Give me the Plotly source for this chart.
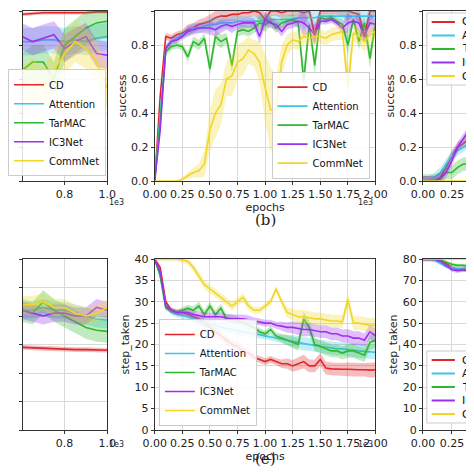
import plotly.graph_objects as go
import numpy as np

names = ["CD", "Attention", "TarMAC", "IC3Net", "CommNet"]
colors = ["#e0262a", "#3cc6e6", "#2eb82e", "#9b30f0", "#f2d624"]
fills = ["rgba(224,38,42,0.3)", "rgba(60,198,230,0.3)", "rgba(46,184,46,0.3)", "rgba(155,48,240,0.3)", "rgba(242,214,36,0.3)"]

# --- middle top: success vs epochs (1e3) ---
x_mid = [round(i * 0.05, 2) for i in range(41)]
top_cd = [0,0.5,0.85,0.84,0.86,0.87,0.89,0.9,0.92,0.93,0.94,0.96,0.97,0.97,0.98,0.98,0.99,0.99,1.0,0.99,0.95,1.0,1.0,0.99,1.0,1.0,1.0,0.99,1.0,0.86,1.0,1.0,1.0,1.0,1.0,1.0,0.99,0.98,0.85,1.0,1.0]
top_att = [0,0.4,0.78,0.82,0.84,0.86,0.88,0.9,0.9,0.91,0.92,0.92,0.93,0.93,0.93,0.94,0.94,0.94,0.94,0.94,0.95,0.95,0.95,0.95,0.95,0.95,0.96,0.96,0.96,0.96,0.97,0.97,0.97,0.97,0.97,0.97,0.97,0.97,0.97,0.97,0.97]
top_tar = [0,0.35,0.76,0.79,0.8,0.79,0.73,0.82,0.8,0.84,0.66,0.85,0.82,0.84,0.68,0.88,0.89,0.88,0.9,0.93,0.92,0.94,0.9,0.93,0.94,0.95,0.93,0.59,0.92,0.68,0.96,0.95,0.96,0.94,0.92,0.8,0.95,0.82,0.93,0.72,0.93]
top_ic3 = [0,0.3,0.78,0.82,0.83,0.85,0.88,0.89,0.9,0.9,0.9,0.89,0.91,0.92,0.91,0.92,0.93,0.93,0.93,0.85,0.95,0.93,0.92,0.88,0.92,0.93,0.94,0.93,0.9,0.86,0.94,0.94,0.95,0.93,0.9,0.93,0.94,0.93,0.85,0.93,0.92]
top_com = [0,0,0,0,0,0.01,0.03,0.05,0.06,0.1,0.3,0.4,0.45,0.6,0.62,0.7,0.72,0.77,0.75,0.7,0.55,0.42,0.42,0.7,0.8,0.83,0.82,0.85,0.84,0.85,0.85,0.84,0.86,0.87,0.88,0.55,0.87,0.85,0.82,0.86,0.88]
top_spread = [0.01,0.02,0.02,0.02,0.02,0.02,0.03,0.03,0.03,0.03,0.04,0.04,0.04,0.03,0.04,0.03,0.03,0.03,0.03,0.04,0.04,0.03,0.03,0.03,0.03,0.03,0.03,0.08,0.03,0.06,0.02,0.02,0.02,0.02,0.03,0.06,0.02,0.05,0.04,0.06,0.03]
com_spread = [0,0,0,0,0,0.01,0.02,0.03,0.04,0.08,0.12,0.14,0.12,0.1,0.12,0.1,0.1,0.08,0.08,0.12,0.2,0.25,0.2,0.1,0.06,0.05,0.05,0.04,0.04,0.04,0.04,0.04,0.04,0.04,0.05,0.1,0.05,0.05,0.06,0.05,0.05]

# --- middle bottom: step_taken ---
bot_cd = [40,38,30,28,27.5,27.5,27,26.5,26,25,24,23,22,21,20,19.5,18.5,18,17,16.5,16,16.5,16,15.5,15.5,15,15.5,16,15,15,16.5,14.5,14.3,14.2,14.2,14.2,14.1,14.1,14.1,14,14.1]
bot_att = [40,36,29,27.5,27,26.8,26.5,26,25.5,25,24.8,24.5,24,23.8,23.5,23.2,23,22.8,22.5,22.3,22,21.8,21.5,21.3,21,20.8,20.5,20.2,20,19.8,19.6,19.4,19.2,19,19,18.8,18.6,18.5,18.4,18.3,18.2]
bot_tar = [40,36,28.5,28,27.5,28,28.5,28,29,27,29,27,28.5,26,26,25.5,25,24.5,24,23,22.5,23.5,22,21.5,21,20.5,20,26,24,20,19.5,19,18.5,18.5,18,18.5,18.5,18,17.5,20.5,21]
bot_ic3 = [40,37,29,28,27.5,27.5,27.5,27,26.8,26.5,26.5,26.5,26.5,26.2,26,26,26,25.8,25.5,25.3,25,25,24.5,24.3,24,24,23.8,23.5,23.5,23.3,23,23,22.5,22.5,22,22,21.5,21.5,21,23,22]
bot_com = [40,40,40,40,40,39.8,39.5,38,36,34,33,32,31,30,29,30,31,29,28,28,29,30,33,30,27.5,27,26.5,26.5,26.3,26,26,25.8,25.5,25.5,25.3,30.5,25,25,24.8,24.5,24.5]
bot_spread = [0.2,0.5,0.6,0.6,0.6,0.7,0.8,0.9,1.0,1.0,1.0,1.0,1.0,1.0,1.0,1.0,1.0,1.0,0.8,0.8,0.8,0.8,0.8,1.0,1.2,1.4,1.5,1.6,1.5,1.5,1.5,1.5,1.5,1.5,1.5,1.6,1.6,1.6,1.6,1.7,1.7]

# --- left panels (cropped) ---
x_left = [0.6,0.65,0.7,0.75,0.8,0.85,0.9,0.95,1.0]
lt_vals = [[0.98,0.985,0.99,0.99,0.99,0.99,0.99,0.995,0.995],
           [0.82,0.82,0.83,0.83,0.82,0.83,0.82,0.84,0.85],
           [0.65,0.7,0.7,0.6,0.8,0.85,0.9,0.93,0.94],
           [0.85,0.82,0.84,0.86,0.78,0.82,0.85,0.75,0.74],
           [0.55,0.6,0.55,0.65,0.75,0.82,0.78,0.7,0.55]]
lt_spread = [0.01, 0.08, 0.1, 0.08, 0.12]
lb_vals = [[14.5,14.4,14.3,14.3,14.2,14.1,14.1,14.0,14.0],
           [21,21,21.5,21,21,20.5,20,19.5,19.3],
           [21,20.5,22.5,21,20,19,18,17.5,17.3],
           [21,20.5,20,20.5,20.5,20,20,21.5,21],
           [22,22,22.5,21.5,21.5,20.5,20,20.5,21.5]]
lb_spread = [0.4, 1.5, 2.0, 1.5, 1.5]

# --- right panels (cropped) ---
x_right = [0,0.05,0.1,0.15,0.2,0.25,0.3,0.35,0.4,0.45,0.5]
rt_vals = [[0,0,0,0.02,0.08,0.15,0.2,0.22,0.25,0.28,0.26],
           [0,0,0.02,0.05,0.1,0.15,0.18,0.2,0.22,0.25,0.2],
           [0,0,0,0.01,0.05,0.05,0.08,0.1,0.1,0.1,0.12],
           [0,0,0,0.02,0.05,0.12,0.2,0.25,0.3,0.28,0.28],
           [0,0,0,0,0,0,0,0,0,0,0]]
rt_spread = [0.03, 0.03, 0.04, 0.03, 0]
rb_vals = [[80,80,80,79.5,78,76,75,75,74.5,75,74],
           [80,80,79.5,78,76.5,76,75.5,75.5,76,76,76],
           [80,80,80,79.5,78.5,77.5,77,77,76.5,76.5,77],
           [80,80,80,79,77,75,74.5,75,75,75.5,75],
           [80,80,80,80,80,80,80,80,80,80,80]]
rb_spread = [1.0, 1.0, 0.8, 1.0, 0]

fig = go.Figure()

def add(xs, ys, spread, i, ax, legend):
    ys = np.array(ys, dtype=float)
    sp = np.array(spread, dtype=float) * np.ones_like(ys)
    xa, ya = ax
    fig.add_trace(go.Scatter(x=xs, y=ys - sp, mode="lines", line=dict(width=0), showlegend=False,
                             hoverinfo="skip", xaxis=xa, yaxis=ya))
    fig.add_trace(go.Scatter(x=xs, y=ys + sp, mode="lines", line=dict(width=0), fill="tonexty",
                             fillcolor=fills[i], showlegend=False, hoverinfo="skip", xaxis=xa, yaxis=ya))
    fig.add_trace(go.Scatter(x=xs, y=ys, mode="lines", line=dict(color=colors[i], width=1.6), name=names[i],
                             showlegend=legend is not None, legend=legend or "legend", xaxis=xa, yaxis=ya))

for i in range(5):
    add(x_left, lt_vals[i], lt_spread[i], i, ("x", "y"), "legend3")
for i, v in enumerate([top_cd, top_att, top_tar, top_ic3, top_com]):
    add(x_mid, v, com_spread if i == 4 else top_spread, i, ("x2", "y2"), "legend")
for i in range(5):
    add(x_right, rt_vals[i], rt_spread[i], i, ("x3", "y3"), None)
for i in range(5):
    add(x_left, lb_vals[i], lb_spread[i], i, ("x4", "y4"), None)
for i, v in enumerate([bot_cd, bot_att, bot_tar, bot_ic3, bot_com]):
    add(x_mid, v, bot_spread, i, ("x5", "y5"), "legend2")
for i in range(5):
    add(x_right, rb_vals[i], rb_spread[i], i, ("x6", "y6"), None)

W = 474.0
xd = {"L": [0, 87 / W], "M": [136 / W, 364 / W], "R": [413 / W, 1]}
yd = {"T": [1 - 173 / W, 1 - 3 / W], "B": [1 - 422 / W, 1 - 251 / W]}
axstyle = dict(showline=True, linecolor="#333", linewidth=1, mirror=True, showgrid=True,
               gridcolor="#d9d9d9", ticks="outside", ticklen=3, tickcolor="#333", zeroline=False,
               tickangle=0, automargin=False, tickfont=dict(size=11, color="#222"))
tf = dict(size=11)
lay = dict(
    xaxis=dict(domain=xd["L"], range=[0.605, 1.0], tickvals=[0.6, 0.8, 1.0], tickformat=".1f", anchor="y", **axstyle),
    yaxis=dict(domain=yd["T"], range=[0, 1], dtick=0.2, showticklabels=False, anchor="x", **axstyle),
    xaxis2=dict(domain=xd["M"], range=[0, 2], dtick=0.25, tickformat=".2f", anchor="y2",
                title=dict(text="epochs", font=tf, standoff=2), **axstyle),
    yaxis2=dict(domain=yd["T"], range=[0, 1], dtick=0.2, tickformat=".1f", anchor="x2",
                title=dict(text="success", font=tf, standoff=2), **axstyle),
    xaxis3=dict(domain=xd["R"], range=[0, 0.51], dtick=0.25, tickformat=".2f", anchor="y3", **axstyle),
    yaxis3=dict(domain=yd["T"], range=[0, 1], dtick=0.2, tickformat=".1f", anchor="x3",
                title=dict(text="success", font=tf, standoff=2), **axstyle),
    xaxis4=dict(domain=xd["L"], range=[0.605, 1.0], tickvals=[0.6, 0.8, 1.0], tickformat=".1f", anchor="y4", **axstyle),
    yaxis4=dict(domain=yd["B"], range=[0, 30], dtick=5, showticklabels=False, anchor="x4", **axstyle),
    xaxis5=dict(domain=xd["M"], range=[0, 2], dtick=0.25, tickformat=".2f", anchor="y5",
                title=dict(text="epochs", font=tf, standoff=2), **axstyle),
    yaxis5=dict(domain=yd["B"], range=[0, 40], dtick=5, anchor="x5",
                title=dict(text="step_taken", font=tf, standoff=2), **axstyle),
    xaxis6=dict(domain=xd["R"], range=[0, 0.51], dtick=0.25, tickformat=".2f", anchor="y6", **axstyle),
    yaxis6=dict(domain=yd["B"], range=[0, 80], dtick=10, anchor="x6",
                title=dict(text="step_taken", font=tf, standoff=2), **axstyle),
)
legstyle = dict(bgcolor="rgba(255,255,255,0.85)", bordercolor="#ccc", borderwidth=1,
                font=dict(size=10, color="#111"), tracegroupgap=0, itemwidth=30, traceorder="normal")

# manual (cropped) legends for the right-hand panels
shapes, annots = [], []
def manual_legend(top_px):
    shapes.append(dict(type="rect", xref="paper", yref="paper", x0=417 / W, x1=1.02, y0=1 - (top_px + 72) / W,
                       y1=1 - top_px / W, line=dict(color="#ccc", width=1), fillcolor="rgba(255,255,255,0.85)", layer="above"))
    for k in range(5):
        yy = 1 - (top_px + 9 + k * 13.5) / W
        shapes.append(dict(type="line", xref="paper", yref="paper", x0=422 / W, x1=446 / W, y0=yy, y1=yy,
                           line=dict(color=colors[k], width=2), layer="above"))
        annots.append(dict(text=names[k], x=451 / W, y=yy, xref="paper", yref="paper", xanchor="left",
                           yanchor="middle", showarrow=False, font=dict(size=11, color="#111")))
manual_legend(5)
manual_legend(343)

annots += [
    dict(text="1e3", x=364 / W, y=yd["T"][0], xref="paper", yref="paper", yshift=-21, showarrow=False, font=dict(size=8)),
    dict(text="1e3", x=364 / W, y=yd["B"][0], xref="paper", yref="paper", yshift=-21, showarrow=False, font=dict(size=8)),
    dict(text="1e3", x=87 / W, y=yd["T"][0], xref="paper", yref="paper", yshift=-21, showarrow=False, font=dict(size=8)),
    dict(text="1e3", x=87 / W, y=yd["B"][0], xref="paper", yref="paper", yshift=-21, showarrow=False, font=dict(size=8)),
    dict(text="(b)", x=250 / W, y=1 - 212 / W, xref="paper", yref="paper", showarrow=False,
         font=dict(size=15, family="DejaVu Serif")),
    dict(text="(e)", x=250 / W, y=1 - 462 / W, xref="paper", yref="paper", showarrow=False,
         font=dict(size=15, family="DejaVu Serif")),
]

fig.update_layout(
    width=474, height=474, margin=dict(l=0, r=0, t=0, b=0),
    plot_bgcolor="white", paper_bgcolor="white",
    font=dict(family="DejaVu Sans", color="#222"),
    legend=dict(x=0.755, y=0.64, xanchor="right", yanchor="bottom", **legstyle),
    legend2=dict(x=0.296, y=0.118, xanchor="left", yanchor="bottom", **legstyle),
    legend3=dict(x=0.18, y=0.645, xanchor="right", yanchor="bottom", **legstyle),
    shapes=shapes,
    annotations=annots,
    **lay,
)
fig.write_html("out.html")
